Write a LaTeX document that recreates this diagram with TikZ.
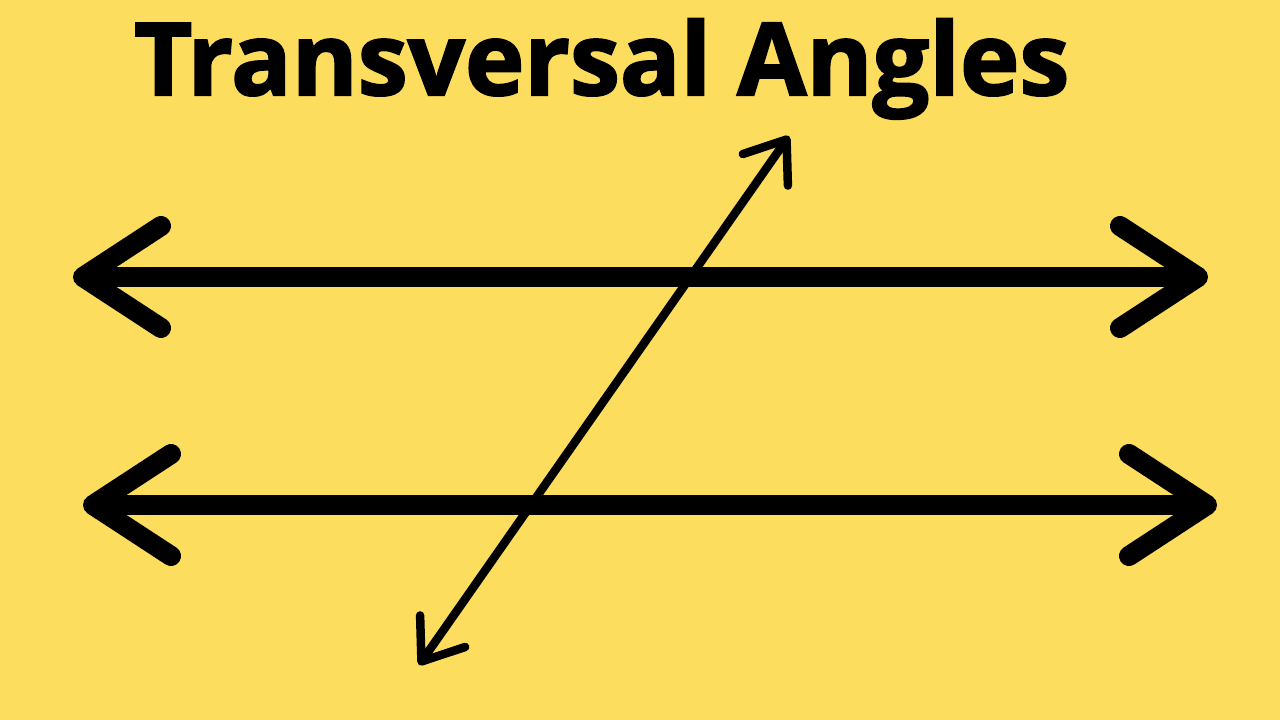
\documentclass[tikz,border=0pt]{standalone}
\usepackage{fontspec}
\setmainfont{Open Sans}
\newfontfamily\titlefont{Open Sans}[BoldFeatures={FakeBold=2}]
\usetikzlibrary{arrows.meta}
\definecolor{bgyellow}{HTML}{FDDD5E}
\begin{document}
\begin{tikzpicture}[x=1pt,y=-1pt,
  parline/.style={line width=20pt, line cap=round, line join=round,
    {Straight Barb[length=78pt,width=102pt,round]}-{Straight Barb[length=78pt,width=102pt,round]}},
  transline/.style={line width=8.5pt, line cap=round, line join=round,
    {Straight Barb[length=37pt,width=55pt,round]}-{Straight Barb[length=37pt,width=55pt,round]}},
  titlestyle/.style={anchor=base west, inner sep=0pt, font=\titlefont\fontsize{100.5}{110}\selectfont\bfseries}]
\fill[bgyellow] (0,0) rectangle (1280,720);
\useasboundingbox (0,0) rectangle (1280,720);
\node[titlestyle] (title) at (134,95) {Transversal Angles};
\coordinate (L1a) at (73,277);
\coordinate (L1b) at (1208,277);
\coordinate (L2a) at (83,505);
\coordinate (L2b) at (1217,505);
\coordinate (Ta) at (419,665);
\coordinate (Tb) at (789,136);
\draw[parline] (L1a) -- (L1b);
\draw[parline] (L2a) -- (L2b);
\draw[transline] (Ta) -- (Tb);
\end{tikzpicture}
\end{document}
